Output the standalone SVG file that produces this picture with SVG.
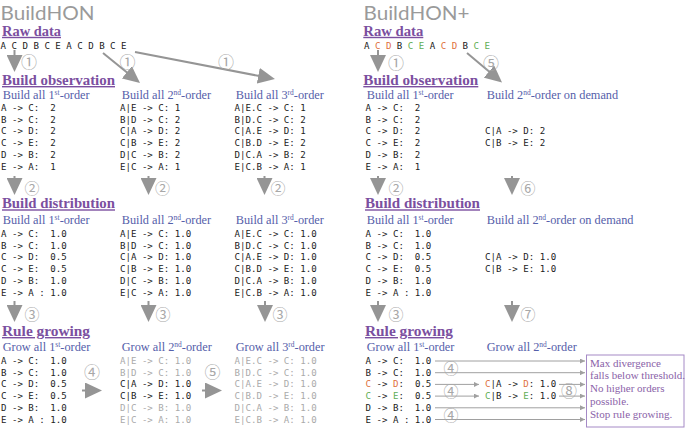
<svg xmlns="http://www.w3.org/2000/svg" width="685" height="428" viewBox="0 0 685 428" xml:space="preserve">
<style>
text{white-space:pre}
.title{font-family:Lato,"Open Sans","DejaVu Sans",sans-serif;font-size:19.5px;fill:#9a9a9a}
.h{font-family:"Liberation Serif","DejaVu Serif",serif;font-weight:bold;font-size:14px;fill:#7b4fa0;text-decoration:underline}
.sub{font-family:"Liberation Serif","DejaVu Serif",serif;font-size:12.3px;fill:#5560aa}
.sup{font-size:7.5px}
.m{font-family:"DejaVu Sans Mono","Liberation Mono",monospace;font-size:9.1px;fill:#222}
.g{fill:#aaa}
.o{fill:#e0703c}
.gr{fill:#5fae55}
.num{font-family:"Noto Sans CJK SC","DejaVu Sans",sans-serif;font-size:15px;fill:#a8a8a8;text-anchor:middle;dominant-baseline:central}
.n1{font-size:16px}
.big{stroke:#959595;stroke-width:2;fill:none;marker-end:url(#bh)}
.thin{stroke:#a0a0a0;stroke-width:1;fill:none;marker-end:url(#sh)}
.boxt{font-family:"Liberation Serif","DejaVu Serif",serif;font-size:11px;fill:#8a62a8}
</style>
<defs>
<marker id="bh" markerUnits="userSpaceOnUse" markerWidth="17" markerHeight="16" refX="9" refY="8" orient="auto"><path d="M0,0 L17,8 L0,16 z" fill="#959595"/></marker>
<marker id="sh" markerUnits="userSpaceOnUse" markerWidth="5" markerHeight="5" refX="5" refY="2.5" orient="auto"><path d="M0,0 L5,2.5 L0,5 z" fill="#a0a0a0"/></marker>
</defs>

<!-- LEFT: BuildHON -->
<g id="title-left"><text class="title" x="0.5" y="19.5" textLength="94" lengthAdjust="spacingAndGlyphs">BuildHON</text></g>
<g id="raw-left">
<text class="h" x="2" y="35.8" font-size="13.5" textLength="59" lengthAdjust="spacingAndGlyphs">Raw data</text>
<text class="m" x="0.6" y="48.5">A C D B C E A C D B C E</text>
</g>
<g id="obs-left">
<text class="h" x="2" y="85" textLength="113" lengthAdjust="spacingAndGlyphs">Build observation</text>
<text class="sub" x="2.7" y="99">Build all 1<tspan class="sup" dy="-4">st</tspan><tspan dy="4">-order</tspan></text>
<text class="m" x="1" y="111">A -> C:  2</text>
<text class="m" x="1" y="122.7">B -> C:  2</text>
<text class="m" x="1" y="134.4">C -> D:  2</text>
<text class="m" x="1" y="146.1">C -> E:  2</text>
<text class="m" x="1" y="157.8">D -> B:  2</text>
<text class="m" x="1" y="169.5">E -> A:  1</text>
</g>
<g id="obs-left-2">
<text class="sub" x="121.7" y="99">Build all 2<tspan class="sup" dy="-4">nd</tspan><tspan dy="4">-order</tspan></text>
<text class="m" x="120" y="111">A|E -> C: 1</text>
<text class="m" x="120" y="122.7">B|D -> C: 2</text>
<text class="m" x="120" y="134.4">C|A -> D: 2</text>
<text class="m" x="120" y="146.1">C|B -> E: 2</text>
<text class="m" x="120" y="157.8">D|C -> B: 2</text>
<text class="m" x="120" y="169.5">E|C -> A: 1</text>
</g>
<g id="obs-left-3">
<text class="sub" x="235.7" y="99">Build all 3<tspan class="sup" dy="-4">rd</tspan><tspan dy="4">-order</tspan></text>
<text class="m" x="234.6" y="111">A|E.C -> C: 1</text>
<text class="m" x="234.6" y="122.7">B|D.C -> C: 2</text>
<text class="m" x="234.6" y="134.4">C|A.E -> D: 1</text>
<text class="m" x="234.6" y="146.1">C|B.D -> E: 2</text>
<text class="m" x="234.6" y="157.8">D|C.A -> B: 2</text>
<text class="m" x="234.6" y="169.5">E|C.B -> A: 1</text>
</g>

<g id="dist-left">
<text class="h" x="2" y="208.3" textLength="113" lengthAdjust="spacingAndGlyphs">Build distribution</text>
<text class="sub" x="2.7" y="224">Build all 1<tspan class="sup" dy="-4">st</tspan><tspan dy="4">-order</tspan></text>
<text class="m" x="1" y="237">A -> C:  1.0</text>
<text class="m" x="1" y="248.7">B -> C:  1.0</text>
<text class="m" x="1" y="260.4">C -> D:  0.5</text>
<text class="m" x="1" y="272.1">C -> E:  0.5</text>
<text class="m" x="1" y="283.8">D -> B:  1.0</text>
<text class="m" x="1" y="295.5">E -> A : 1.0</text>
</g>
<g id="dist-left-2">
<text class="sub" x="121.7" y="224">Build all 2<tspan class="sup" dy="-4">nd</tspan><tspan dy="4">-order</tspan></text>
<text class="m" x="120" y="237">A|E -> C: 1.0</text>
<text class="m" x="120" y="248.7">B|D -> C: 1.0</text>
<text class="m" x="120" y="260.4">C|A -> D: 1.0</text>
<text class="m" x="120" y="272.1">C|B -> E: 1.0</text>
<text class="m" x="120" y="283.8">D|C -> B: 1.0</text>
<text class="m" x="120" y="295.5">E|C -> A: 1.0</text>
</g>
<g id="dist-left-3">
<text class="sub" x="235.7" y="224">Build all 3<tspan class="sup" dy="-4">rd</tspan><tspan dy="4">-order</tspan></text>
<text class="m" x="234.6" y="237">A|E.C -> C: 1.0</text>
<text class="m" x="234.6" y="248.7">B|D.C -> C: 1.0</text>
<text class="m" x="234.6" y="260.4">C|A.E -> D: 1.0</text>
<text class="m" x="234.6" y="272.1">C|B.D -> E: 1.0</text>
<text class="m" x="234.6" y="283.8">D|C.A -> B: 1.0</text>
<text class="m" x="234.6" y="295.5">E|C.B -> A: 1.0</text>
</g>

<g id="rule-left">
<text class="h" x="2" y="336" textLength="88" lengthAdjust="spacingAndGlyphs">Rule growing</text>
<text class="sub" x="2.7" y="351">Grow all 1<tspan class="sup" dy="-4">st</tspan><tspan dy="4">-order</tspan></text>
<text class="m" x="1" y="364" fill="#111">A -> C:  1.0</text>
<text class="m" x="1" y="375.7">B -> C:  1.0</text>
<text class="m" x="1" y="387.4">C -> D:  0.5</text>
<text class="m" x="1" y="399.1">C -> E:  0.5</text>
<text class="m" x="1" y="410.8">D -> B:  1.0</text>
<text class="m" x="1" y="422.5">E -> A : 1.0</text>
</g>
<g id="rule-left-2">
<text class="sub" x="121.7" y="351">Grow all 2<tspan class="sup" dy="-4">nd</tspan><tspan dy="4">-order</tspan></text>
<text class="m g" x="120" y="364">A|E -> C: 1.0</text>
<text class="m g" x="120" y="375.7">B|D -> C: 1.0</text>
<text class="m" x="120" y="387.4">C|A -> D: 1.0</text>
<text class="m" x="120" y="399.1">C|B -> E: 1.0</text>
<text class="m g" x="120" y="410.8">D|C -> B: 1.0</text>
<text class="m g" x="120" y="422.5">E|C -> A: 1.0</text>
</g>
<g id="rule-left-3">
<text class="sub" x="235.7" y="351">Grow all 3<tspan class="sup" dy="-4">rd</tspan><tspan dy="4">-order</tspan></text>
<text class="m g" x="234.6" y="364">A|E.C -> C: 1.0</text>
<text class="m g" x="234.6" y="375.7">B|D.C -> C: 1.0</text>
<text class="m g" x="234.6" y="387.4">C|A.E -> D: 1.0</text>
<text class="m g" x="234.6" y="399.1">C|B.D -> E: 1.0</text>
<text class="m g" x="234.6" y="410.8">D|C.A -> B: 1.0</text>
<text class="m g" x="234.6" y="422.5">E|C.B -> A: 1.0</text>
</g>

<!-- RIGHT: BuildHON+ -->
<g id="title-right"><text class="title" x="363.5" y="19.5" textLength="106" lengthAdjust="spacingAndGlyphs">BuildHON+</text></g>
<g id="raw-right">
<text class="h" x="363.3" y="35.8" font-size="13.5" textLength="60" lengthAdjust="spacingAndGlyphs">Raw data</text>
<text class="m" x="364" y="48.5">A <tspan class="o">C D</tspan> B <tspan class="gr">C E</tspan> A <tspan class="o">C D</tspan> B <tspan class="gr">C E</tspan></text>
</g>
<g id="obs-right">
<text class="h" x="363.3" y="85" textLength="115" lengthAdjust="spacingAndGlyphs">Build observation</text>
<text class="sub" x="366.7" y="99">Build all 1<tspan class="sup" dy="-4">st</tspan><tspan dy="4">-order</tspan></text>
<text class="m" x="365.6" y="111">A -> C:  2</text>
<text class="m" x="365.6" y="122.7">B -> C:  2</text>
<text class="m" x="365.6" y="134.4">C -> D:  2</text>
<text class="m" x="365.6" y="146.1">C -> E:  2</text>
<text class="m" x="365.6" y="157.8">D -> B:  2</text>
<text class="m" x="365.6" y="169.5">E -> A:  1</text>
</g>
<g id="obs-right-2">
<text class="sub" x="486.7" y="99">Build 2<tspan class="sup" dy="-4">nd</tspan><tspan dy="4">-order on demand</tspan></text>
<text class="m" x="485" y="134.4">C|A -> D: 2</text>
<text class="m" x="485" y="146.1">C|B -> E: 2</text>
</g>
<g id="dist-right">
<text class="h" x="365" y="208.3" textLength="115" lengthAdjust="spacingAndGlyphs">Build distribution</text>
<text class="sub" x="366.7" y="224">Build all 1<tspan class="sup" dy="-4">st</tspan><tspan dy="4">-order</tspan></text>
<text class="m" x="365.6" y="237">A -> C:  1.0</text>
<text class="m" x="365.6" y="248.7">B -> C:  1.0</text>
<text class="m" x="365.6" y="260.4">C -> D:  0.5</text>
<text class="m" x="365.6" y="272.1">C -> E:  0.5</text>
<text class="m" x="365.6" y="283.8">D -> B:  1.0</text>
<text class="m" x="365.6" y="295.5">E -> A : 1.0</text>
</g>
<g id="dist-right-2">
<text class="sub" x="486.7" y="224">Build all 2<tspan class="sup" dy="-4">nd</tspan><tspan dy="4">-order on demand</tspan></text>
<text class="m" x="485" y="260.4">C|A -> D: 1.0</text>
<text class="m" x="485" y="272.1">C|B -> E: 1.0</text>
</g>
<g id="rule-right">
<text class="h" x="365" y="336" textLength="88" lengthAdjust="spacingAndGlyphs">Rule growing</text>
<text class="sub" x="366.7" y="351">Grow all 1<tspan class="sup" dy="-4">st</tspan><tspan dy="4">-order</tspan></text>
<text class="m" x="365.6" y="364">A -> C:  1.0</text>
<text class="m" x="365.6" y="375.7">B -> C:  1.0</text>
<text class="m" x="365.6" y="387.4"><tspan class="o">C</tspan> -> <tspan class="o">D</tspan>:  0.5</text>
<text class="m" x="365.6" y="399.1"><tspan class="gr">C</tspan> -> <tspan class="gr">E</tspan>:  0.5</text>
<text class="m" x="365.6" y="410.8">D -> B:  1.0</text>
<text class="m" x="365.6" y="422.5">E -> A : 1.0</text>
</g>
<g id="rule-right-2">
<text class="sub" x="486.7" y="351">Grow all 2<tspan class="sup" dy="-4">nd</tspan><tspan dy="4">-order</tspan></text>
<text class="m" x="485" y="387.4"><tspan class="o">C</tspan>|A -> <tspan class="o">D</tspan>: 1.0</text>
<text class="m" x="485" y="399.1"><tspan class="gr">C</tspan>|B -> <tspan class="gr">E</tspan>: 1.0</text>
</g>
<g id="stop-box">
<rect x="586.5" y="355" width="97.5" height="72" fill="none" stroke="#a58ac6" stroke-width="1"/>
<text class="boxt" x="590" y="366.5">Max divergence</text>
<text class="boxt" x="590" y="379.3">falls below threshold.</text>
<text class="boxt" x="590" y="392">No higher orders</text>
<text class="boxt" x="590" y="404.8">possible.</text>
<text class="boxt" x="590" y="417.6">Stop rule growing.</text>
</g>

<g id="connectors">
<!-- left -->
<line class="big" x1="14.5" y1="50" x2="14.5" y2="64"/>
<line class="big" x1="103" y1="53" x2="133.8" y2="78"/>
<line class="big" x1="135" y1="52" x2="267.1" y2="77.5"/>
<line class="big" x1="14.5" y1="176" x2="14.5" y2="187"/>
<line class="big" x1="148.5" y1="176" x2="148.5" y2="187"/>
<line class="big" x1="264.5" y1="176" x2="264.5" y2="187"/>
<line class="big" x1="14.5" y1="301" x2="14.5" y2="314"/>
<line class="big" x1="148.5" y1="301" x2="148.5" y2="314"/>
<line class="big" x1="265" y1="301" x2="265" y2="314"/>
<line class="big" x1="82" y1="390.5" x2="94" y2="390.5"/>
<line class="big" x1="202" y1="390.5" x2="214" y2="390.5"/>
<!-- right -->
<line class="big" x1="378" y1="50" x2="378" y2="64"/>
<line class="big" x1="467" y1="53" x2="495.9" y2="77.3"/>
<line class="big" x1="378" y1="176" x2="378" y2="187"/>
<line class="big" x1="512" y1="176" x2="512" y2="187"/>
<line class="big" x1="378" y1="301" x2="378" y2="314"/>
<line class="big" x1="512" y1="301" x2="512" y2="314"/>
<line class="thin" x1="435" y1="361" x2="585" y2="361"/>
<line class="thin" x1="435" y1="372.7" x2="585" y2="372.7"/>
<line class="thin" x1="435" y1="384.4" x2="479" y2="384.4"/>
<line class="thin" x1="435" y1="396.1" x2="479" y2="396.1"/>
<line class="thin" x1="435" y1="407.8" x2="585" y2="407.8"/>
<line class="thin" x1="435" y1="419.5" x2="585" y2="419.5"/>
<line class="thin" x1="559" y1="384.4" x2="585" y2="384.4"/>
<line class="thin" x1="559" y1="396.1" x2="585" y2="396.1"/>
<!-- step numbers -->
<text class="num n1" x="29" y="61">①</text>
<text class="num n1" x="127.5" y="61">①</text>
<text class="num n1" x="226" y="61">①</text>
<text class="num" x="32" y="187">②</text>
<text class="num" x="162.5" y="187">②</text>
<text class="num" x="278" y="187">②</text>
<text class="num" x="32" y="313">③</text>
<text class="num" x="163" y="313">③</text>
<text class="num" x="280" y="313">③</text>
<text class="num n1" x="92" y="371">④</text>
<text class="num n1" x="212.5" y="371">⑤</text>
<text class="num n1" x="396" y="62">①</text>
<text class="num n1" x="491" y="62">⑤</text>
<text class="num" x="396" y="187">②</text>
<text class="num" x="528" y="187">⑥</text>
<text class="num" x="396" y="313">③</text>
<text class="num" x="528" y="313">⑦</text>
<text class="num" x="451" y="367.5">④</text>
<text class="num" x="451" y="390.5">④</text>
<text class="num" x="451" y="414">④</text>
<text class="num n1" x="569" y="390">⑧</text>
</g>
</svg>
